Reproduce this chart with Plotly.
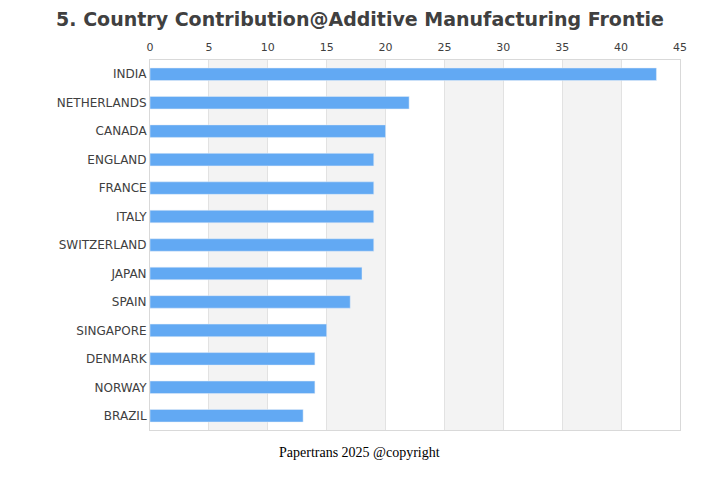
import plotly.graph_objects as go

countries = ["INDIA", "NETHERLANDS", "CANADA", "ENGLAND", "FRANCE", "ITALY",
             "SWITZERLAND", "JAPAN", "SPAIN", "SINGAPORE", "DENMARK", "NORWAY",
             "BRAZIL"]
counts = [43, 22, 20, 19, 19, 19, 19, 18, 17, 15, 14, 14, 13]
tick_values = [0, 5, 10, 15, 20, 25, 30, 35, 40, 45]

fig = go.Figure()
fig.add_trace(go.Bar(
    x=counts,
    y=countries,
    orientation="h",
    marker=dict(color="#62a9f3"),
    hoverinfo="x+y",
))

# alternating grey bands between ticks
for start, end in zip(tick_values[1::2], tick_values[2::2]):
    fig.add_shape(type="rect", xref="x", yref="paper", x0=start, x1=end,
                  y0=0, y1=1, fillcolor="#f3f3f3", line_width=0, layer="below")

# page body has an 8px margin, so the figure is a bit smaller than the window
fig.update_layout(
    width=712,
    height=472,
    margin=dict(l=142, r=40, t=52, b=50),
    paper_bgcolor="white",
    plot_bgcolor="white",
    bargap=0.56,
    showlegend=False,
    font=dict(family="DejaVu Sans", color="#404040", size=12),
    title=dict(text="<b>5. Country Contribution@Additive Manufacturing Frontie</b>",
               x=0.5 - 4 / 712, xanchor="center", y=1 - 5 / 472,
               yanchor="top", font=dict(size=19, color="#404040")),
    xaxis=dict(side="top", range=[0, 45], tickvals=tick_values,
               showgrid=True, gridcolor="#e2e2e2", zeroline=False,
               showline=True, linecolor="#d9d9d9", mirror=True,
               tickfont=dict(size=11), ticks="", ticklabelstandoff=4),
    yaxis=dict(autorange="reversed", showline=True, linecolor="#d9d9d9",
               mirror=True, ticks="", tickfont=dict(size=12)),
    annotations=[dict(text="Papertrans 2025 @copyright", xref="paper",
                      yref="paper", x=(359 - 150) / 530, y=-22 / 370,
                      xanchor="center", yanchor="middle", showarrow=False,
                      font=dict(family="Liberation Serif", size=14,
                                color="black"))],
)

fig.write_html("out.html")
